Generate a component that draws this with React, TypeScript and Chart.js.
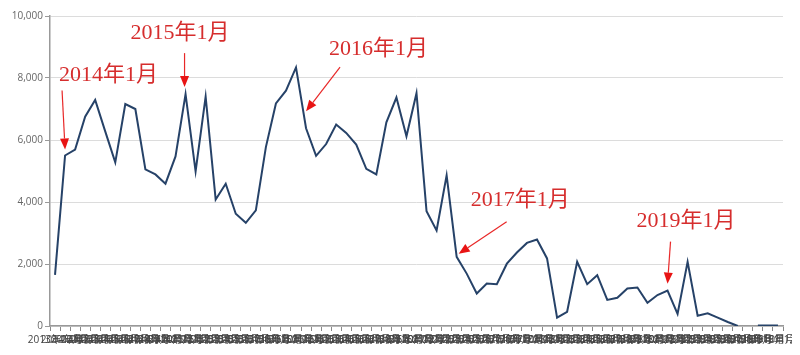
import React, { useEffect, useRef } from "react";
import { Chart, registerables } from "chart.js";

Chart.register(...registerables);

const months: string[] = [
  "2013年12月",
  "2014年1月", "2014年2月", "2014年3月", "2014年4月", "2014年5月", "2014年6月",
  "2014年7月", "2014年8月", "2014年9月", "2014年10月", "2014年11月", "2014年12月",
  "2015年1月", "2015年2月", "2015年3月", "2015年4月", "2015年5月", "2015年6月",
  "2015年7月", "2015年8月", "2015年9月", "2015年10月", "2015年11月", "2015年12月",
  "2016年1月", "2016年2月", "2016年3月", "2016年4月", "2016年5月", "2016年6月",
  "2016年7月", "2016年8月", "2016年9月", "2016年10月", "2016年11月", "2016年12月",
  "2017年1月", "2017年2月", "2017年3月", "2017年4月", "2017年5月", "2017年6月",
  "2017年7月", "2017年8月", "2017年9月", "2017年10月", "2017年11月", "2017年12月",
  "2018年1月", "2018年2月", "2018年3月", "2018年4月", "2018年5月", "2018年6月",
  "2018年7月", "2018年8月", "2018年9月", "2018年10月", "2018年11月", "2018年12月",
  "2019年1月", "2019年2月", "2019年3月", "2019年4月", "2019年5月", "2019年6月",
  "2019年7月", "2019年8月", "2019年9月", "2019年10月", "2019年11月", "2019年12月",
];

const values: (number | null)[] = [
  1650,
  5500, 5690, 6750, 7290, 6280, 5280, 7160, 7000, 5050, 4890, 4590, 5470,
  7480, 4990, 7400, 4080, 4590, 3620, 3330, 3730, 5770, 7180, 7590, 8340,
  6380, 5490, 5870, 6500, 6230, 5850, 5070, 4890, 6570, 7370, 6120, 7510,
  3700, 3080, 4860, 2230, 1690, 1050, 1370, 1350, 2010, 2370, 2680, 2790,
  2180, 270, 460, 2070, 1350, 1640, 840, 910, 1210, 1240, 750, 1000,
  1140, 390, 2070, 330, 410, 270, 130, 0, null, 20, 20, 20,
];

const yTicks: number[] = [0, 2000, 4000, 6000, 8000, 10000];

// annotations: label and the data point (index) they refer to
const annLabels: string[] = ["2014年1月", "2015年1月", "2016年1月", "2017年1月", "2019年1月"];
const annIndex: number[] = [1, 13, 25, 40, 61];

// pixel offsets relative to the referenced point: [tipDx, tipDy, tailDx, tailDy, textDx, textDy]
const annOffsets: number[][] = [
  [0, -6, -3, -65, -6, -80],
  [-1, -7, -1, -41, -55, -61],
  [0, -17, 34, -61, 23, -79],
  [2, -3, 50, -35, 14, -57],
  [0, -7, 3, -49, -31, -69],
];

const arrowPlugin = {
  id: "arrowNotes",
  afterDatasetsDraw(chart: any) {
    const { ctx } = chart;
    const xs = chart.scales.x;
    const ys = chart.scales.y;
    ctx.save();
    annLabels.forEach((label, k) => {
      const i = annIndex[k];
      const v = values[i] ?? 0;
      const px = xs.getPixelForValue(i);
      const py = ys.getPixelForValue(v);
      const [tdx, tdy, sdx, sdy, txd, tyd] = annOffsets[k];
      const tipX = px + tdx;
      const tipY = py + tdy;
      const tailX = px + sdx;
      const tailY = py + sdy;
      const ang = Math.atan2(tipY - tailY, tipX - tailX);
      const headLen = 11;
      const headW = 4.5;
      const baseX = tipX - Math.cos(ang) * headLen;
      const baseY = tipY - Math.sin(ang) * headLen;
      ctx.strokeStyle = "rgb(232,40,40)";
      ctx.fillStyle = "rgb(232,20,20)";
      ctx.lineWidth = 1.2;
      ctx.beginPath();
      ctx.moveTo(tailX, tailY);
      ctx.lineTo(baseX, baseY);
      ctx.stroke();
      ctx.beginPath();
      ctx.moveTo(tipX, tipY);
      ctx.lineTo(baseX + Math.sin(ang) * headW, baseY - Math.cos(ang) * headW);
      ctx.lineTo(baseX - Math.sin(ang) * headW, baseY + Math.cos(ang) * headW);
      ctx.closePath();
      ctx.fill();
      ctx.font = '22px "Liberation Serif", "Noto Sans CJK JP", serif';
      ctx.fillStyle = "rgb(214,45,45)";
      ctx.textAlign = "left";
      ctx.textBaseline = "middle";
      ctx.fillText(label, px + txd, py + tyd);
    });
    ctx.restore();
  },
};

export default function App() {
  const ref = useRef<HTMLCanvasElement | null>(null);
  useEffect(() => {
    if (!ref.current) return;
    Chart.defaults.font.family = '"Open Sans", "Noto Sans CJK SC", sans-serif';
    const chart = new Chart(ref.current, {
      type: "line",
      data: {
        labels: months,
        datasets: [
          {
            label: "件数",
            data: values,
            borderColor: "rgb(38,66,104)",
            backgroundColor: "rgb(38,66,104)",
            borderWidth: 2,
            pointRadius: 0,
            tension: 0,
            spanGaps: false,
          },
        ],
      },
      options: {
        animation: false,
        responsive: true,
        maintainAspectRatio: false,
        layout: { padding: { top: 7, right: 9, left: 0, bottom: 0 } },
        plugins: { legend: { display: false }, tooltip: { enabled: false } },
        scales: {
          x: {
            type: "category",
            offset: true,
            grid: {
              display: true,
              drawOnChartArea: false,
              drawTicks: true,
              tickLength: 5,
              tickColor: "#888",
              offset: true,
            },
            border: { color: "#999", width: 1.5 },
            ticks: {
              autoSkip: false,
              maxRotation: 0,
              minRotation: 0,
              color: "#444",
              font: { size: 10 },
              padding: 3,
            },
            afterFit: (s: any) => {
              s.height = 29;
              s.paddingLeft = 0;
              s.paddingRight = 0;
            },
          },
          y: {
            min: yTicks[0],
            max: yTicks[yTicks.length - 1],
            afterBuildTicks: (s: any) => {
              s.ticks = yTicks.map((v) => ({ value: v }));
            },
            grid: { color: "#dcdcdc", tickColor: "#999", tickLength: 5 },
            border: { color: "#999", width: 1.5 },
            ticks: {
              color: "#666",
              font: { size: 10 },
              padding: 2,
              callback: (v: any) => Number(v).toLocaleString("en-US"),
            },
            afterFit: (s: any) => {
              s.width = 42;
            },
          },
        },
      },
      plugins: [arrowPlugin],
    });
    return () => chart.destroy();
  }, []);
  return (
    <div style={{ width: 784, height: 347, position: "relative" }}>
      <canvas ref={ref} />
    </div>
  );
}
